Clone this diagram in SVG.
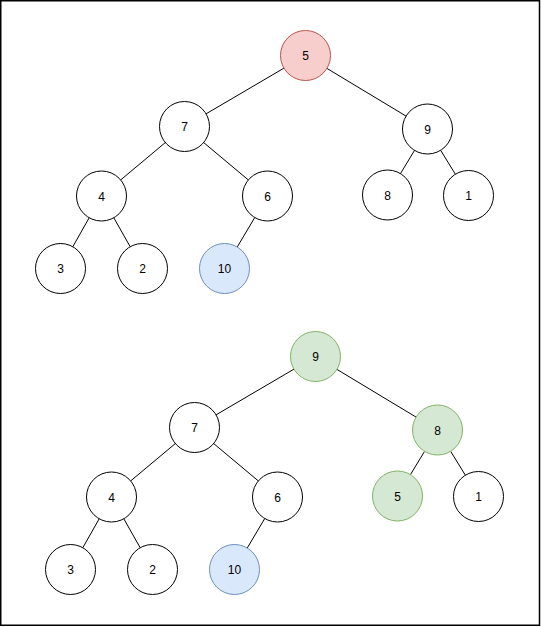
<svg xmlns="http://www.w3.org/2000/svg" width="541" height="627" viewBox="0 0 541 627">
<style>
.n{fill:#ffffff;stroke:#000000;stroke-width:1}
.red{fill:#f8cecc;stroke:#b85450}
.blue{fill:#dae8fc;stroke:#6c8ebf}
.green{fill:#d5e8d4;stroke:#82b366}
.t{font-family:"Liberation Sans",Arial,sans-serif;font-size:12px;fill:#000000;text-anchor:middle}
.e line{stroke:#000000;stroke-width:1;fill:none}
</style>
<rect x="0.75" y="0.75" width="538.75" height="624.5" fill="#ffffff" stroke="#000000" stroke-width="1.5"/>
<g id="connectors" class="e">
<line x1="283.94" y1="68.15" x2="206.06" y2="113.85"/>
<line x1="326.91" y1="68.40" x2="406.09" y2="116.10"/>
<line x1="165.33" y1="142.55" x2="120.67" y2="179.95"/>
<line x1="203.67" y1="142.55" x2="248.33" y2="179.95"/>
<line x1="414.54" y1="150.38" x2="400.46" y2="173.62"/>
<line x1="440.62" y1="150.28" x2="455.38" y2="174.22"/>
<line x1="89.19" y1="217.76" x2="72.81" y2="246.74"/>
<line x1="113.81" y1="217.76" x2="130.19" y2="246.74"/>
<line x1="254.75" y1="217.50" x2="237.25" y2="247.00"/>
<line x1="293.94" y1="369.15" x2="216.06" y2="414.85"/>
<line x1="336.91" y1="369.40" x2="416.09" y2="417.10"/>
<line x1="175.33" y1="443.55" x2="130.67" y2="480.95"/>
<line x1="213.67" y1="443.55" x2="258.33" y2="480.95"/>
<line x1="424.54" y1="451.38" x2="410.46" y2="474.62"/>
<line x1="450.62" y1="451.28" x2="465.38" y2="475.22"/>
<line x1="99.19" y1="518.76" x2="82.81" y2="547.74"/>
<line x1="123.81" y1="518.76" x2="140.19" y2="547.74"/>
<line x1="264.75" y1="518.50" x2="247.25" y2="548.00"/>
</g>
<g id="top-5"><circle class="n red" cx="305.5" cy="55.5" r="25"/><text class="t" x="305.5" y="60">5</text></g>
<g id="top-7"><circle class="n" cx="184.5" cy="126.5" r="25"/><text class="t" x="184.5" y="131">7</text></g>
<g id="top-9"><circle class="n" cx="427.5" cy="129" r="25"/><text class="t" x="427.5" y="133.5">9</text></g>
<g id="top-4"><circle class="n" cx="101.5" cy="196" r="25"/><text class="t" x="101.5" y="200.5">4</text></g>
<g id="top-6"><circle class="n" cx="267.5" cy="196" r="25"/><text class="t" x="267.5" y="200.5">6</text></g>
<g id="top-8"><circle class="n" cx="387.5" cy="195" r="25"/><text class="t" x="387.5" y="199.5">8</text></g>
<g id="top-1"><circle class="n" cx="468.5" cy="195.5" r="25"/><text class="t" x="468.5" y="200">1</text></g>
<g id="top-3"><circle class="n" cx="60.5" cy="268.5" r="25"/><text class="t" x="60.5" y="273">3</text></g>
<g id="top-2"><circle class="n" cx="142.5" cy="268.5" r="25"/><text class="t" x="142.5" y="273">2</text></g>
<g id="top-10"><circle class="n blue" cx="224.5" cy="268.5" r="25"/><text class="t" x="224.5" y="273">10</text></g>
<g id="bot-9"><circle class="n green" cx="315.5" cy="356.5" r="25"/><text class="t" x="315.5" y="361">9</text></g>
<g id="bot-7"><circle class="n" cx="194.5" cy="427.5" r="25"/><text class="t" x="194.5" y="432">7</text></g>
<g id="bot-8"><circle class="n green" cx="437.5" cy="430" r="25"/><text class="t" x="437.5" y="434.5">8</text></g>
<g id="bot-4"><circle class="n" cx="111.5" cy="497" r="25"/><text class="t" x="111.5" y="501.5">4</text></g>
<g id="bot-6"><circle class="n" cx="277.5" cy="497" r="25"/><text class="t" x="277.5" y="501.5">6</text></g>
<g id="bot-5"><circle class="n green" cx="397.5" cy="496" r="25"/><text class="t" x="397.5" y="500.5">5</text></g>
<g id="bot-1"><circle class="n" cx="478.5" cy="496.5" r="25"/><text class="t" x="478.5" y="501">1</text></g>
<g id="bot-3"><circle class="n" cx="70.5" cy="569.5" r="25"/><text class="t" x="70.5" y="574">3</text></g>
<g id="bot-2"><circle class="n" cx="152.5" cy="569.5" r="25"/><text class="t" x="152.5" y="574">2</text></g>
<g id="bot-10"><circle class="n blue" cx="234.5" cy="569.5" r="25"/><text class="t" x="234.5" y="574">10</text></g>
</svg>
